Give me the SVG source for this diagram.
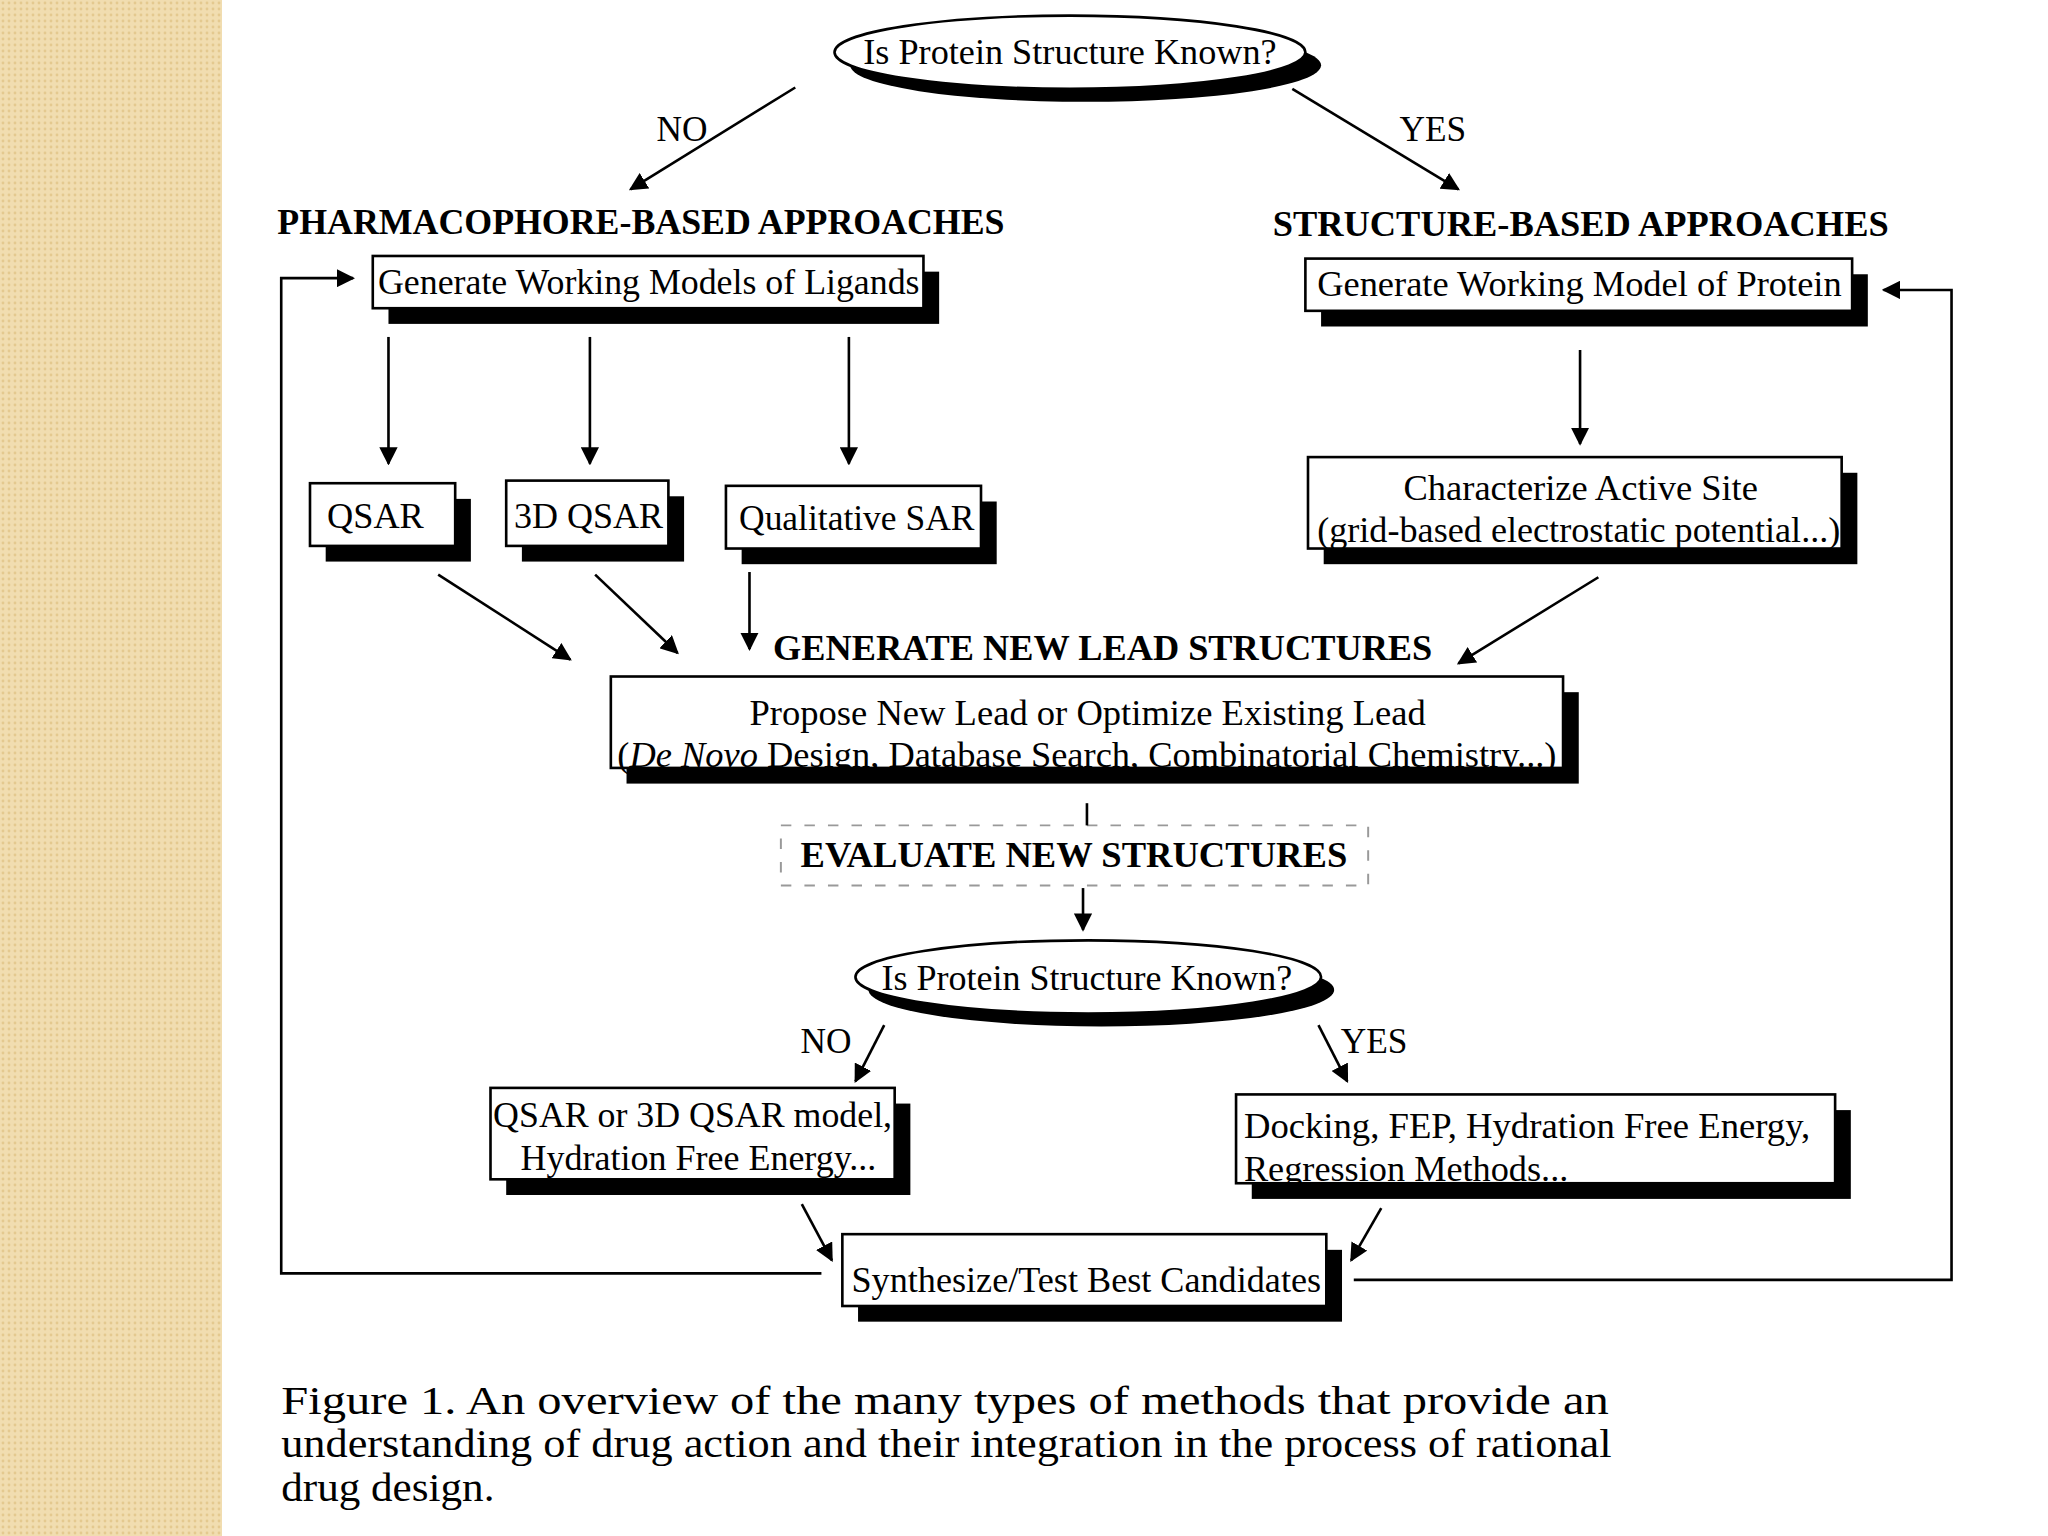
<svg xmlns="http://www.w3.org/2000/svg" width="2048" height="1536" viewBox="0 0 2048 1536">
<defs>
<pattern id="dots" width="6" height="6" patternUnits="userSpaceOnUse"><rect width="6" height="6" fill="#f1ddb0"/><circle cx="3" cy="3" r="1.4" fill="#e4c98f"/></pattern>
<marker id="ah" viewBox="0 0 10 10" refX="9" refY="5" markerWidth="7" markerHeight="7" orient="auto"><path d="M0,0 L10,5 L0,10 z" fill="#000"/></marker>
<style>
text{font-family:"Liberation Serif","Times New Roman",serif;fill:#000}
.t{font-size:27px}
.b{font-size:27px;font-weight:bold}
.box{fill:#fff;stroke:#000;stroke-width:2}
.sh{fill:#000}
.c{stroke:#000;stroke-width:2;fill:none}
.a{stroke:#000;stroke-width:2;fill:none;marker-end:url(#ah)}
</style>
</defs>
<rect width="2048" height="1536" fill="#fff"/>
<rect width="222" height="1536" fill="url(#dots)"/>
<g transform="scale(1.308,1.306)">
<g id="q1">
<ellipse cx="830" cy="50" rx="180" ry="28" class="sh"/>
<ellipse cx="818" cy="40" rx="180" ry="28" class="box"/>
<text x="818" y="49" class="t" text-anchor="middle" textLength="316" lengthAdjust="spacingAndGlyphs">Is Protein Structure Known?</text>
</g>
<g id="pharm"><text x="212" y="179" class="b" textLength="556" lengthAdjust="spacingAndGlyphs">PHARMACOPHORE-BASED APPROACHES</text></g>
<g id="struct"><text x="973" y="181" class="b" textLength="471" lengthAdjust="spacingAndGlyphs">STRUCTURE-BASED APPROACHES</text></g>
<g id="ligands">
<rect x="297" y="208" width="421" height="40" class="sh"/>
<rect x="285" y="196" width="421" height="40" class="box"/>
<text x="289" y="225" class="t" textLength="414" lengthAdjust="spacingAndGlyphs">Generate Working Models of Ligands</text>
</g>
<g id="protein">
<rect x="1010" y="210" width="418" height="40" class="sh"/>
<rect x="998" y="198" width="418" height="40" class="box"/>
<text x="1007" y="227" class="t" textLength="401" lengthAdjust="spacingAndGlyphs">Generate Working Model of Protein</text>
</g>
<g id="qsar">
<rect x="249" y="382" width="111" height="48" class="sh"/>
<rect x="237" y="370" width="111" height="48" class="box"/>
<text x="250" y="404" class="t" textLength="74" lengthAdjust="spacingAndGlyphs">QSAR</text>
</g>
<g id="qsar3d">
<rect x="399" y="380" width="124" height="50" class="sh"/>
<rect x="387" y="368" width="124" height="50" class="box"/>
<text x="393" y="404" class="t" textLength="114" lengthAdjust="spacingAndGlyphs">3D QSAR</text>
</g>
<g id="qualsar">
<rect x="567" y="384" width="195" height="48" class="sh"/>
<rect x="555" y="372" width="195" height="48" class="box"/>
<text x="565" y="406" class="t" textLength="180" lengthAdjust="spacingAndGlyphs">Qualitative SAR</text>
</g>
<g id="active">
<rect x="1012" y="362" width="408" height="70" class="sh"/>
<rect x="1000" y="350" width="408" height="70" class="box"/>
<text x="1073" y="383" class="t" textLength="271" lengthAdjust="spacingAndGlyphs">Characterize Active Site</text>
<text x="1007" y="415" class="t" textLength="400" lengthAdjust="spacingAndGlyphs">(grid-based electrostatic potential...)</text>
</g>
<g id="genlead"><text x="591" y="505" class="b" textLength="504" lengthAdjust="spacingAndGlyphs">GENERATE NEW LEAD STRUCTURES</text></g>
<g id="propose">
<rect x="479" y="530" width="728" height="70" class="sh"/>
<rect x="467" y="518" width="728" height="70" class="box"/>
<text x="573" y="555" class="t" textLength="517" lengthAdjust="spacingAndGlyphs">Propose New  Lead or Optimize Existing Lead</text>
<text x="472" y="587" class="t" textLength="718" lengthAdjust="spacingAndGlyphs">(<tspan font-style="italic">De Novo</tspan> Design, Database Search, Combinatorial Chemistry...)</text>
</g>
<g id="evaluate">
<rect x="597" y="632" width="449" height="46" fill="none" stroke="#999" stroke-width="1.5" stroke-dasharray="8,10"/>
<text x="612" y="664" class="b" textLength="418" lengthAdjust="spacingAndGlyphs">EVALUATE NEW STRUCTURES</text>
</g>
<g id="q2">
<ellipse cx="842" cy="758" rx="178" ry="28" class="sh"/>
<ellipse cx="832" cy="748" rx="178" ry="28" class="box"/>
<text x="831" y="758" class="t" text-anchor="middle" textLength="314" lengthAdjust="spacingAndGlyphs">Is Protein Structure Known?</text>
</g>
<g id="nomodel">
<rect x="387" y="845" width="309" height="70" class="sh"/>
<rect x="375" y="833" width="309" height="70" class="box"/>
<text x="377" y="863" class="t" textLength="305" lengthAdjust="spacingAndGlyphs">QSAR or 3D QSAR model,</text>
<text x="398" y="896" class="t" textLength="272" lengthAdjust="spacingAndGlyphs">Hydration Free Energy...</text>
</g>
<g id="docking">
<rect x="957" y="850" width="458" height="68" class="sh"/>
<rect x="945" y="838" width="458" height="68" class="box"/>
<text x="951" y="871" class="t" textLength="433" lengthAdjust="spacingAndGlyphs">Docking, FEP, Hydration Free Energy,</text>
<text x="951" y="904" class="t" textLength="248" lengthAdjust="spacingAndGlyphs">Regression Methods...</text>
</g>
<g id="synth">
<rect x="656" y="957" width="370" height="55" class="sh"/>
<rect x="644" y="945" width="370" height="55" class="box"/>
<text x="651" y="989" class="t" textLength="359" lengthAdjust="spacingAndGlyphs">Synthesize/Test Best Candidates</text>
</g>
<g id="labels">
<text x="502" y="108" class="t">NO</text>
<text x="1070" y="108" class="t">YES</text>
<text x="612" y="806" class="t">NO</text>
<text x="1025" y="806" class="t">YES</text>
</g>
<g id="connectors">
<line x1="608" y1="67" x2="482" y2="145" class="a"/>
<line x1="988" y1="68" x2="1115" y2="145" class="a"/>
<line x1="297" y1="258" x2="297" y2="355" class="a"/>
<line x1="451" y1="258" x2="451" y2="355" class="a"/>
<line x1="649" y1="258" x2="649" y2="355" class="a"/>
<line x1="1208" y1="268" x2="1208" y2="340" class="a"/>
<line x1="335" y1="440" x2="436" y2="505" class="a"/>
<line x1="455" y1="440" x2="518" y2="500" class="a"/>
<line x1="573" y1="438" x2="573" y2="497" class="a"/>
<line x1="1222" y1="442" x2="1115" y2="508" class="a"/>
<line x1="831" y1="615" x2="831" y2="632" class="c"/>
<line x1="828" y1="680" x2="828" y2="712" class="a"/>
<line x1="676" y1="785" x2="654" y2="828" class="a"/>
<line x1="1008" y1="785" x2="1030" y2="828" class="a"/>
<line x1="613" y1="922" x2="636" y2="965" class="a"/>
<line x1="1056" y1="925" x2="1033" y2="965" class="a"/>
<polyline points="628,975 215,975 215,213 270,213" class="a"/>
<polyline points="1035,980 1492,980 1492,222 1440,222" class="a"/>
</g>
<g id="caption">
<text x="215" y="1083" font-size="31" textLength="1015" lengthAdjust="spacingAndGlyphs">Figure 1.  An overview of the many types of methods that provide an</text>
<text x="215" y="1116" font-size="31" textLength="1017" lengthAdjust="spacingAndGlyphs">understanding of drug action and their integration in the process of rational</text>
<text x="215" y="1149" font-size="31" textLength="163" lengthAdjust="spacingAndGlyphs">drug design.</text>
</g>
</g>
</svg>
